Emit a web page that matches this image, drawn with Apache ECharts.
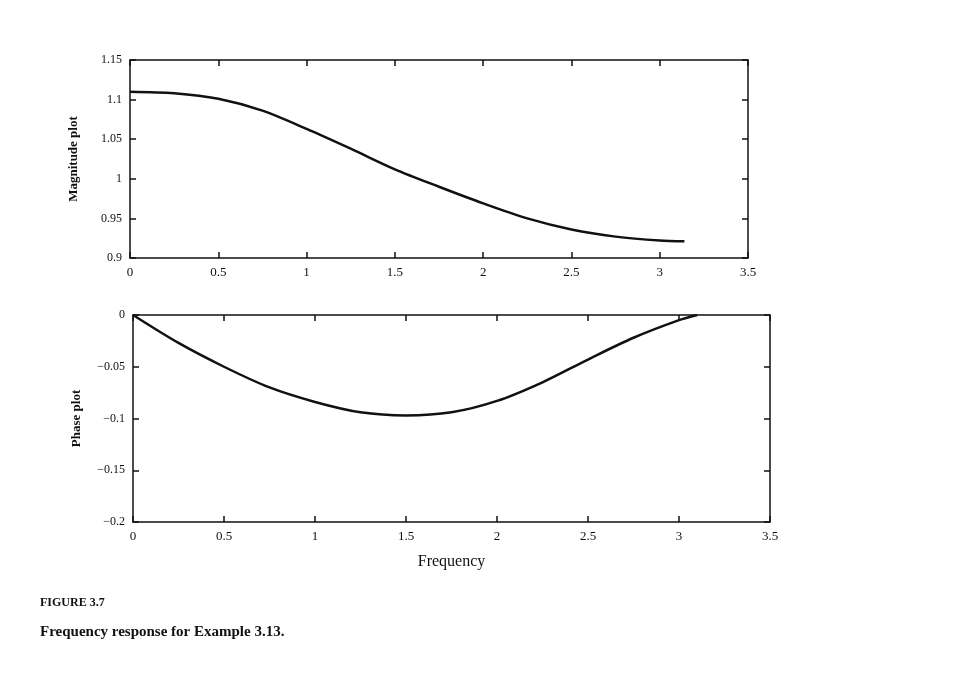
<!DOCTYPE html>
<html><head><meta charset="utf-8">
<script src="https://cdn.jsdelivr.net/npm/echarts@6/dist/echarts.min.js"></script>
<style>html,body{margin:0;background:#fff}#c{width:968px;height:676px}</style></head>
<body><div id="c"></div>
<script>
const freq = [0,0.25,0.5,0.75,1,1.25,1.5,1.75,2,2.25,2.5,2.75,3,3.14];
const magnitude = [1.110,1.108,1.101,1.086,1.063,1.038,1.012,0.990,0.969,0.950,0.936,0.927,0.922,0.921];
const phaseFreq = [0,0.25,0.5,0.75,1,1.25,1.5,1.75,2,2.25,2.5,2.75,3,3.1];
const phase = [0,-0.027,-0.050,-0.070,-0.084,-0.094,-0.097,-0.094,-0.083,-0.065,-0.043,-0.022,-0.005,0];
const F = 'Liberation Serif';
const c = echarts.init(document.getElementById('c'));
const ax = (min,max,interval,extra)=>Object.assign({min,max,interval,
  axisLine:{show:true,onZero:false,lineStyle:{color:'#111',width:1.5}},
  axisTick:{show:true,inside:true,length:6,lineStyle:{color:'#111',width:1.5}},
  splitLine:{show:false},
  axisLabel:{color:'#111',fontFamily:F,fontSize:13}},extra);
c.setOption({
  animation:false,
  grid:[{left:130,top:60,width:618,height:198},{left:133,top:315,width:637,height:207}],
  xAxis:[
    ax(0,3.5,0.5,{gridIndex:0,type:'value',position:'bottom'}),
    ax(0,3.5,0.5,{gridIndex:0,type:'value',position:'top',axisLabel:{show:false}}),
    ax(0,3.5,0.5,{gridIndex:1,type:'value',position:'bottom',name:'Frequency',nameLocation:'middle',nameGap:32,nameTextStyle:{fontFamily:F,fontSize:16,color:'#111'}}),
    ax(0,3.5,0.5,{gridIndex:1,type:'value',position:'top',axisLabel:{show:false}})
  ],
  yAxis:[
    ax(0.9,1.15,0.05,{gridIndex:0,position:'left',name:'Magnitude plot',nameLocation:'middle',nameGap:50,nameTextStyle:{fontFamily:F,fontSize:13,fontWeight:'bold',color:'#111'},axisLabel:{color:'#111',fontFamily:F,fontSize:12,formatter:v=>String(+v.toFixed(2))}}),
    ax(0.9,1.15,0.05,{gridIndex:0,position:'right',axisLabel:{show:false}}),
    ax(-0.2,0,0.05,{gridIndex:1,position:'left',name:'Phase plot',nameLocation:'middle',nameGap:50,nameTextStyle:{fontFamily:F,fontSize:13,fontWeight:'bold',color:'#111'},axisLabel:{color:'#111',fontFamily:F,fontSize:12,formatter:v=>v===0?'0':String(+v.toFixed(2)).replace('-','\u2212')}}),
    ax(-0.2,0,0.05,{gridIndex:1,position:'right',axisLabel:{show:false}})
  ],
  series:[
    {type:'line',xAxisIndex:0,yAxisIndex:0,smooth:0.3,symbol:'none',lineStyle:{color:'#111',width:2.5},data:freq.map((f,i)=>[f,magnitude[i]])},
    {type:'line',xAxisIndex:2,yAxisIndex:2,smooth:0.3,symbol:'none',lineStyle:{color:'#111',width:2.5},data:phaseFreq.map((f,i)=>[f,phase[i]])}
  ],
  graphic:[
    {type:'text',left:40,top:597,style:{text:'FIGURE 3.7',font:'bold 12px '+F,fill:'#111'}},
    {type:'text',left:40,top:625,style:{text:'Frequency response for Example 3.13.',font:'bold 15px '+F,fill:'#111'}}
  ]
});
</script></body></html>
